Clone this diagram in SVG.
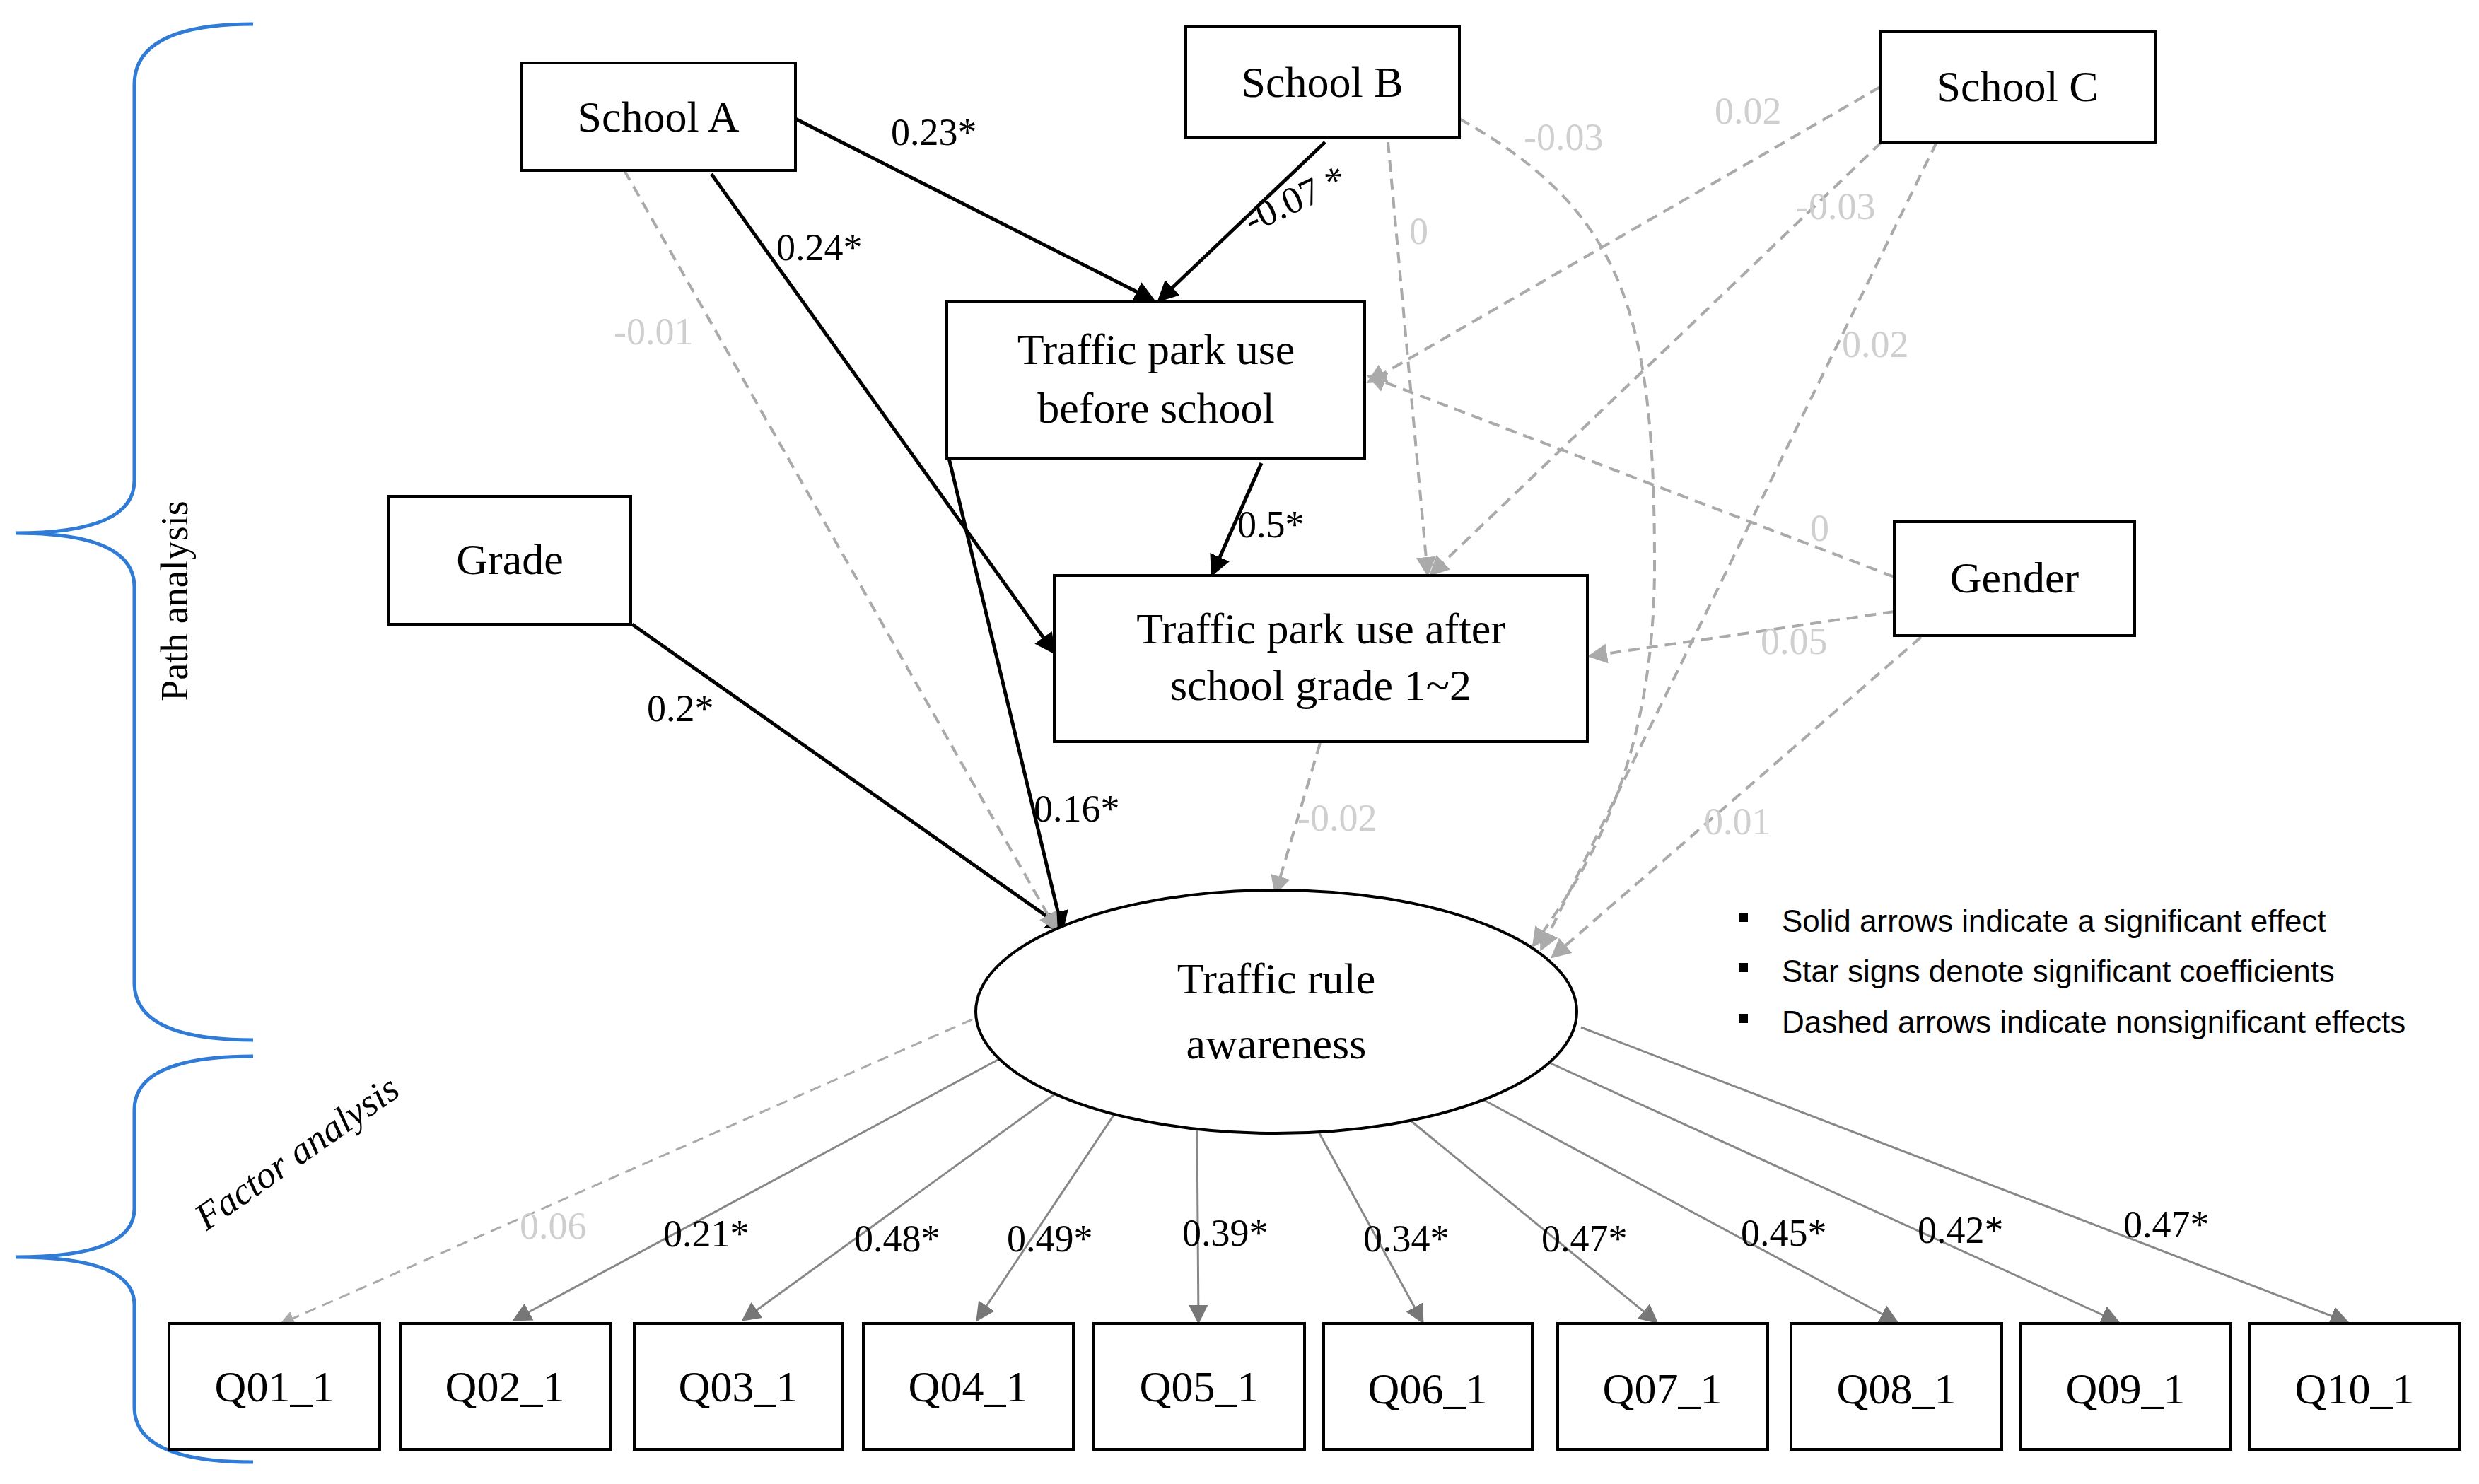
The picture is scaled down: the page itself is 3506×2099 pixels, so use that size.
<svg xmlns="http://www.w3.org/2000/svg" width="3506" height="2099" viewBox="0 0 3506 2099">
<style>
.box{fill:#fff;stroke:#000;stroke-width:4}
.nt{font-family:"Liberation Serif",serif;font-size:62px;text-anchor:middle;fill:#000}
.lb{font-family:"Liberation Serif",serif;font-size:54px;fill:#000}
.lg{font-family:"Liberation Serif",serif;font-size:54px;fill:#cfcfcf}
.sol{stroke:#000;stroke-width:5;fill:none;marker-end:url(#ab)}
.dsh{stroke:#aaa;stroke-width:4;fill:none;stroke-dasharray:16 10;marker-end:url(#ag)}
.ld{stroke:#888;stroke-width:3;fill:none;marker-end:url(#ad)}
.br{stroke:#2f7bd6;stroke-width:5;fill:none}
.leg{font-family:"Liberation Sans",sans-serif;font-size:44px;fill:#000}
</style>
<defs>
<marker id="ab" markerWidth="6" markerHeight="6" refX="5" refY="3" orient="auto" markerUnits="strokeWidth"><path d="M0,0 L6,3 L0,6 z" fill="#000"/></marker>
<marker id="ag" markerWidth="7" markerHeight="7" refX="6" refY="3.5" orient="auto" markerUnits="strokeWidth"><path d="M0,0 L7,3.5 L0,7 z" fill="#aaa"/></marker>
<marker id="ad" markerWidth="9" markerHeight="9" refX="8" refY="4.5" orient="auto" markerUnits="strokeWidth"><path d="M0,0 L9,4.5 L0,9 z" fill="#777"/></marker>
</defs>
<g id="braces">
<path class="br" d="M358,34 Q190,34 190,120 L190,680 Q190,754 22,754 Q190,754 190,830 L190,1390 Q190,1471 358,1471"/>
<path class="br" d="M358,1494 Q190,1494 190,1570 L190,1710 Q190,1778 22,1778 Q190,1778 190,1845 L190,1990 Q190,2068 358,2068"/>
<text x="265" y="850" transform="rotate(-90 265 850)" class="lb" text-anchor="middle">Path analysis</text>
<text x="430" y="1645" transform="rotate(-35 430 1645)" class="lb" text-anchor="middle" font-style="italic" font-size="58">Factor analysis</text>
</g>
<g id="connectors">
<line class="sol" x1="1125" y1="168" x2="1630" y2="424"/>
<line class="sol" x1="1874" y1="201" x2="1640" y2="424"/>
<line class="sol" x1="1006" y1="246" x2="1490" y2="922"/>
<line class="sol" x1="1784" y1="655" x2="1715" y2="811"/>
<line class="sol" x1="894" y1="883" x2="1506" y2="1314"/>
<line class="sol" x1="1342" y1="648" x2="1502" y2="1314"/>
<line class="dsh" x1="883" y1="241" x2="1494" y2="1315"/>
<path class="dsh" d="M2064,168 C2300,300 2340,450 2340,800 C2340,1100 2230,1250 2169,1337"/>
<line class="dsh" x1="1963" y1="201" x2="2019" y2="812"/>
<line class="dsh" x1="2659" y1="123" x2="1936" y2="540"/>
<line class="dsh" x1="2661" y1="201" x2="2024" y2="812"/>
<line class="dsh" x1="2739" y1="201" x2="2180" y2="1342"/>
<line class="dsh" x1="2679" y1="816" x2="1936" y2="532"/>
<line class="dsh" x1="2679" y1="865" x2="2249" y2="928"/>
<line class="dsh" x1="2717" y1="901" x2="2196" y2="1353"/>
<line class="dsh" x1="1867" y1="1051" x2="1804" y2="1263"/>
<line class="dsh" x1="1375" y1="1442" x2="398" y2="1872" style="stroke-width:3"/>
<line class="ld" x1="1413" y1="1498" x2="727" y2="1867"/>
<line class="ld" x1="1498" y1="1543" x2="1051" y2="1867"/>
<line class="ld" x1="1576" y1="1576" x2="1382" y2="1867"/>
<line class="ld" x1="1693" y1="1599" x2="1695" y2="1870"/>
<line class="ld" x1="1860" y1="1592" x2="2012" y2="1870"/>
<line class="ld" x1="1990" y1="1581" x2="2343" y2="1870"/>
<line class="ld" x1="2095" y1="1554" x2="2683" y2="1870"/>
<line class="ld" x1="2191" y1="1503" x2="2996" y2="1870"/>
<line class="ld" x1="2236" y1="1453" x2="3320" y2="1870"/>
<text class="lb" x="1260" y="205">0.23*</text>
<text class="lb" x="1770" y="330" transform="rotate(-25 1770 330)">-0.07 *</text>
<text class="lb" x="1098" y="368">0.24*</text>
<text class="lb" x="1750" y="760">0.5*</text>
<text class="lb" x="915" y="1020">0.2*</text>
<text class="lb" x="1462" y="1162">0.16*</text>
<text class="lg" x="868" y="487">-0.01</text>
<text class="lg" x="2155" y="212">-0.03</text>
<text class="lg" x="1993" y="345">0</text>
<text class="lg" x="2425" y="175">0.02</text>
<text class="lg" x="2540" y="310">-0.03</text>
<text class="lg" x="2605" y="505">0.02</text>
<text class="lg" x="2560" y="765">0</text>
<text class="lg" x="2490" y="925">0.05</text>
<text class="lg" x="2410" y="1180">0.01</text>
<text class="lg" x="1835" y="1175">-0.02</text>
<text class="lg" x="735" y="1752">0.06</text>
<text class="lb" x="938" y="1763">0.21*</text>
<text class="lb" x="1208" y="1770">0.48*</text>
<text class="lb" x="1424" y="1770">0.49*</text>
<text class="lb" x="1672" y="1762">0.39*</text>
<text class="lb" x="1928" y="1770">0.34*</text>
<text class="lb" x="2180" y="1770">0.47*</text>
<text class="lb" x="2462" y="1762">0.45*</text>
<text class="lb" x="2712" y="1758">0.42*</text>
<text class="lb" x="3003" y="1750">0.47*</text>
</g>
<g id="schoolA"><rect class="box" x="738" y="89" width="387" height="152"/><text class="nt" x="931" y="186">School A</text></g>
<g id="schoolB"><rect class="box" x="1677" y="38" width="387" height="157"/><text class="nt" x="1870" y="137">School B</text></g>
<g id="schoolC"><rect class="box" x="2659" y="45" width="389" height="156"/><text class="nt" x="2853" y="143">School C</text></g>
<g id="before"><rect class="box" x="1339" y="427" width="591" height="221"/><text class="nt" x="1635" y="515">Traffic park use</text><text class="nt" x="1635" y="598">before school</text></g>
<g id="grade"><rect class="box" x="550" y="702" width="342" height="181"/><text class="nt" x="721" y="812">Grade</text></g>
<g id="gender"><rect class="box" x="2679" y="738" width="340" height="161"/><text class="nt" x="2849" y="838">Gender</text></g>
<g id="after"><rect class="box" x="1491" y="814" width="754" height="235"/><text class="nt" x="1868" y="910">Traffic park use after</text><text class="nt" x="1868" y="990">school grade 1~2</text></g>
<g id="awareness"><ellipse cx="1805" cy="1431" rx="425" ry="172" fill="#fff" stroke="#000" stroke-width="4"/><text class="nt" x="1805" y="1405" font-size="72">Traffic rule</text><text class="nt" x="1805" y="1497" font-size="72">awareness</text></g>
<g id="legend">
<rect x="2459" y="1291" width="13" height="13"/><text class="leg" x="2520" y="1318">Solid arrows indicate a significant effect</text>
<rect x="2459" y="1362" width="13" height="13"/><text class="leg" x="2520" y="1389">Star signs denote significant coefficients</text>
<rect x="2459" y="1434" width="13" height="13"/><text class="leg" x="2520" y="1461">Dashed arrows indicate nonsignificant effects</text>
</g>
<g id="Q01"><rect class="box" x="239" y="1872" width="298" height="178"/><text class="nt" x="388" y="1982">Q01_1</text></g>
<g id="Q02"><rect class="box" x="566" y="1872" width="297" height="178"/><text class="nt" x="714" y="1982">Q02_1</text></g>
<g id="Q03"><rect class="box" x="897" y="1872" width="295" height="178"/><text class="nt" x="1044" y="1982">Q03_1</text></g>
<g id="Q04"><rect class="box" x="1221" y="1872" width="297" height="178"/><text class="nt" x="1369" y="1982">Q04_1</text></g>
<g id="Q05"><rect class="box" x="1547" y="1872" width="298" height="178"/><text class="nt" x="1696" y="1982">Q05_1</text></g>
<g id="Q06"><rect class="box" x="1872" y="1872" width="295" height="178"/><text class="nt" x="2019" y="1985">Q06_1</text></g>
<g id="Q07"><rect class="box" x="2203" y="1872" width="297" height="178"/><text class="nt" x="2351" y="1985">Q07_1</text></g>
<g id="Q08"><rect class="box" x="2533" y="1872" width="298" height="178"/><text class="nt" x="2682" y="1985">Q08_1</text></g>
<g id="Q09"><rect class="box" x="2858" y="1872" width="297" height="178"/><text class="nt" x="3006" y="1985">Q09_1</text></g>
<g id="Q10"><rect class="box" x="3182" y="1872" width="297" height="178"/><text class="nt" x="3330" y="1985">Q10_1</text></g>
</svg>
